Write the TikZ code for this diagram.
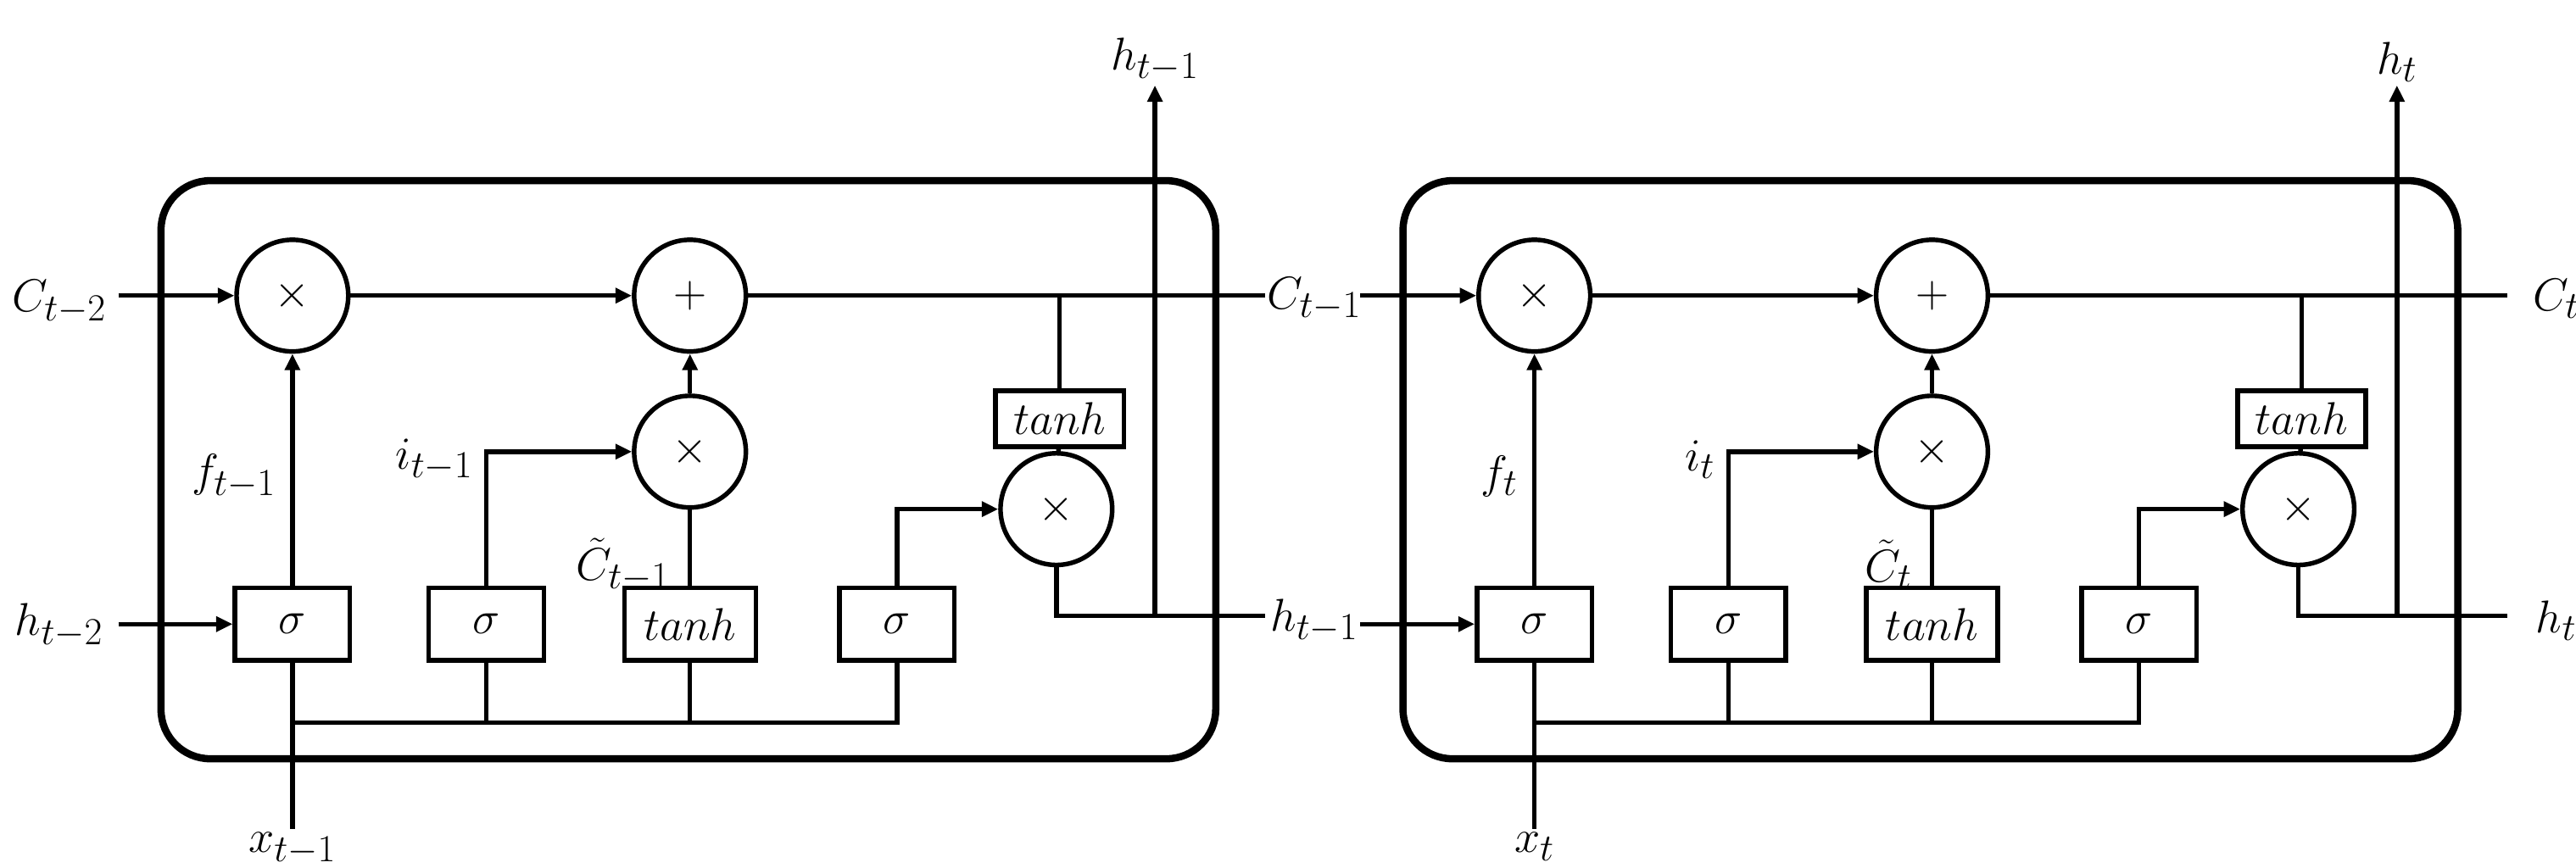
\documentclass[tikz,border=0pt]{standalone}
\usetikzlibrary{arrows.meta}
\newcommand\mytxt[1]{\scalebox{1.6}{\Huge$#1$}}
\begin{document}
\begin{tikzpicture}[x=0.5mm,y=-0.5mm,
  cell/.style={line width=2.2mm,rounded corners=15mm},
  ln/.style={line width=1.4mm},
  arr/.style={line width=1.4mm,-{Triangle[length=5mm,width=4.5mm]}},
  op/.style={circle,draw,line width=1.4mm,minimum size=34mm,inner sep=0pt},
  bx/.style={draw,line width=1.4mm,minimum width=35mm,minimum height=22mm,inner sep=0pt},
  tbx/.style={draw,line width=1.4mm,minimum width=40mm,minimum height=22mm,inner sep=0pt},
  lab/.style={inner sep=1mm}]
\useasboundingbox (0,0) rectangle (1568,528);
\newcommand\lstmcell[5]{%
\begin{scope}[xshift=#1,name prefix=#2-]
\draw[cell] (98,110) rectangle (740,462);
\node[op] (m1) at (178,180) {\mytxt{\times}};
\node[op] (pl) at (420,180) {\mytxt{+}};
\node[op] (m2) at (420,275) {\mytxt{\times}};
\node[op] (m3) at (643,310) {\mytxt{\times}};
\node[draw,line width=1.4mm,minimum width=39mm,minimum height=17mm,inner sep=0pt] (tt) at (645,255) {\mytxt{tanh}};
\node[bx] (s1) at (178,380) {\mytxt{\sigma}};
\node[bx] (s2) at (296,380) {\mytxt{\sigma}};
\node[tbx] (tb) at (420,380) {\mytxt{tanh}};
\node[bx] (s3) at (546,380) {\mytxt{\sigma}};
\coordinate (ci) at (72,180);
\coordinate (hi) at (72,380);
\coordinate (co) at (770,180);
\coordinate (ho) at (770,375);
\coordinate (hv) at (703,375);
\coordinate (hu) at (703,52);
\coordinate (b1) at (178,440);
\coordinate (b4) at (546,440);
\coordinate (xb) at (178,505);
\draw[arr] (ci) -- (m1);
\draw[arr] (hi) -- (s1);
\draw[arr] (m1) -- (pl);
\draw[ln] (pl) -- (co);
\draw[ln] (tt) -- (tt |- co);
\draw[ln] (tt) -- (m3);
\draw[ln] (m3.south) |- (ho);
\draw[arr] (hv) -- (hu);
\draw[arr] (s1) -- (m1);
\draw[arr] (s2.north) |- (m2);
\draw[ln] (tb) -- (m2);
\draw[arr] (m2) -- (pl);
\draw[arr] (s3.north) |- (m3);
\draw[ln] (b1) -- (b4) -- (s3.south);
\draw[ln] (s2.south) -- (s2 |- b1);
\draw[ln] (tb.south) -- (tb |- b1);
\draw[ln] (s1.south) -- (xb);
\node[lab,anchor=east] at (170,290) {\mytxt{f_{#3}}};
\node[lab,anchor=east] at (290,280) {\mytxt{i_{#3}}};
\node[lab,anchor=east] at (410,344) {\mytxt{\tilde C_{#3}}};
\node[lab,anchor=south] (hl) at (hu) {\mytxt{h_{#3}}};
\node[lab,anchor=north] (xl) at (xb) {\mytxt{x_{#3}}};
\node[lab] (cl) at (800,182) {\mytxt{C_{#3}}};
\node[lab] (hol) at (800,378) {\mytxt{h_{#3}}};
#5
\end{scope}}
\lstmcell{0mm}{L}{t-1}{t-2}{\node[lab] at (36,184) {\mytxt{C_{t-2}}};\node[lab] at (36,381) {\mytxt{h_{t-2}}};}
\lstmcell{378mm}{R}{t}{t-1}{}
\end{tikzpicture}
\end{document}
